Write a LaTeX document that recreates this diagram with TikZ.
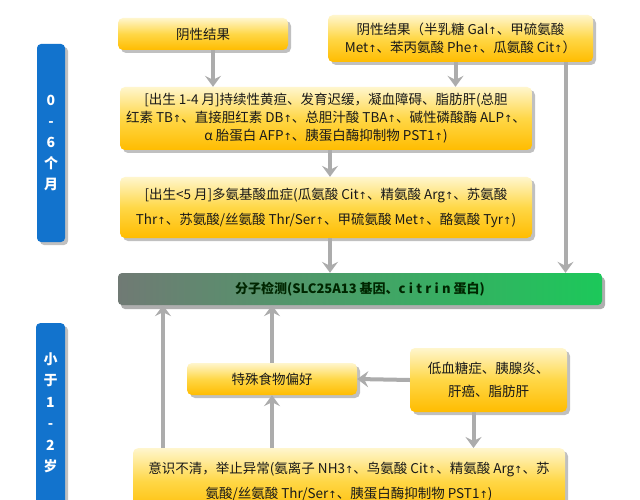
\documentclass[tikz,border=0pt]{standalone}
\usepackage{fontspec}
\setmainfont{Noto Sans CJK SC}
\newfontfamily\djv{DejaVu Sans}
\usetikzlibrary{shadows,arrows.meta}
\newcommand\upa{{\djv\fontsize{10}{10}\selectfont ↑}}
\definecolor{boxtop}{RGB}{255,246,205}
\definecolor{boxmid}{RGB}{255,215,70}
\definecolor{boxbot}{RGB}{255,188,0}
\definecolor{bluebar}{RGB}{18,115,205}
\definecolor{bluedark}{RGB}{10,90,170}
\definecolor{arrgray}{RGB}{172,172,172}
\definecolor{greenR}{RGB}{28,200,90}
\definecolor{grayL}{RGB}{112,122,116}
\definecolor{txt}{RGB}{25,25,25}
\tikzset{
  ybox/.style={rounded corners=5pt, top color=boxtop, bottom color=boxbot, middle color=boxmid,
    drop shadow={shadow xshift=3pt, shadow yshift=-3pt, opacity=0.35, fill=black!70},
    text=txt, align=center, inner sep=0pt, font=\fontsize{13.5}{18}\selectfont},
  wide/.style={font=\fontsize{13.5}{25}\selectfont},
  bbar/.style={rounded corners=4pt, fill=bluebar, text=white, align=center, inner sep=0pt,
    drop shadow={shadow xshift=3pt, shadow yshift=-3pt, opacity=0.35, fill=black!70},
    font=\bfseries\fontsize{14}{21}\selectfont},
  gbar/.style={rounded corners=4pt, left color=grayL, right color=greenR, text=black!85!green,
    drop shadow={shadow xshift=3pt, shadow yshift=-4pt, opacity=0.45, fill=black!70},
    inner sep=0pt, font=\bfseries\fontsize{13}{18}\selectfont},
  arr/.style={draw=arrgray, line width=4pt, -{Stealth[length=11pt,width=16pt,inset=4pt]}},
}
\begin{document}
\begin{tikzpicture}[x=1pt,y=-1pt]
\useasboundingbox[fill=white] (0,0) rectangle (640,500);

% blue side bars
\node[bbar, minimum width=28pt, minimum height=198pt] (bb1) at (51,143) {0\\-\\6\\个\\月};
\node[bbar, minimum width=29pt, minimum height=200pt, anchor=north] (bb2) at (50.5,323) {};
\node[text=white, align=center, font=\bfseries\fontsize{14}{21.5}\selectfont, anchor=north] (bt2) at (bb2.north) [yshift=-26pt] {小\\于\\1\\-\\2\\岁};

% boxes
\node[ybox, minimum width=170pt, minimum height=32pt] (b1) at (203,34) {阴性结果};
\node[ybox, minimum width=265pt, minimum height=47pt] (b2) at (460.5,38.5)
  {阴性结果（半乳糖 Gal\upa、甲硫氨酸\\Met\upa、苯丙氨酸 Phe\upa、瓜氨酸 Cit\upa）};
\node[ybox, minimum width=412pt, minimum height=63pt] (b3) at (326,118.5)
  {[出生 1-4 月]持续性黄疸、发育迟缓，凝血障碍、脂肪肝(总胆\\红素 TB\upa、直接胆红素 DB\upa、总胆汁酸 TBA\upa、碱性磷酸酶 ALP\upa、\\α 胎蛋白 AFP\upa、胰蛋白酶抑制物 PST1\upa)};
\node[ybox, wide, minimum width=412pt, minimum height=61pt] (b4) at (326,207.5)
  {[出生<5 月]多氨基酸血症(瓜氨酸 Cit\upa、精氨酸 Arg\upa、苏氨酸\\Thr\upa、苏氨酸/丝氨酸 Thr/Ser\upa、甲硫氨酸 Met\upa、酪氨酸 Tyr\upa)};
\node[gbar, minimum width=484pt, minimum height=32pt] (g) at (360,289)
  {分子检测(SLC25A13 基因、{\addfontfeature{LetterSpace=25}citrin} 蛋白)};
\node[ybox, minimum width=170pt, minimum height=32pt] (b5) at (272,379) {特殊食物偏好};
\node[ybox, font=\fontsize{13.5}{23}\selectfont, minimum width=157pt, minimum height=64pt] (b6) at (488.5,380)
  {低血糖症、胰腺炎、\\肝癌、脂肪肝};
\node[ybox, wide, minimum width=432pt, minimum height=66pt, anchor=north] (b7) at (349,448)
  {意识不清，举止异常(氨离子 NH3\upa、鸟氨酸 Cit\upa、精氨酸 Arg\upa、苏\\氨酸/丝氨酸 Thr/Ser\upa、胰蛋白酶抑制物 PST1\upa)};

% connectors
\draw[arr] ([xshift=10pt]b1.south) -- ([xshift=10pt]b1.south |- b3.north);
\draw[arr] ([xshift=-5pt]b2.south) -- ([xshift=-5pt]b2.south |- b3.north);
\draw[arr] ([xshift=105pt]b2.south) -- ([xshift=105pt]b2.south |- g.north);
\draw[arr] ([xshift=4pt]b3.south) -- ([xshift=4pt]b3.south |- b4.north);
\draw[arr] ([xshift=4pt]b4.south) -- ([xshift=4pt]b4.south |- g.north);
\draw[arr] ([xshift=-186pt]b7.north) -- ([xshift=-186pt]b7.north |- g.south);
\draw[arr] (b7.north -| b5.south) -- (b5.south);
\draw[arr] (b5.north) -- (b5.north |- g.south);
\draw[arr] (b6.west) -- (b5.east);
\draw[arr] ([xshift=-15pt]b6.south) -- ([xshift=-15pt]b6.south |- b7.north);
\end{tikzpicture}
\end{document}
